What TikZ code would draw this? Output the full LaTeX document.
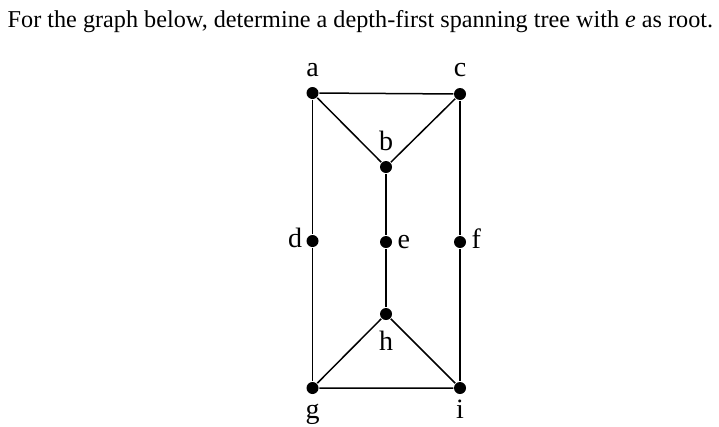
\documentclass[tikz,border=0pt]{standalone}
\usepackage{fontspec}
\setmainfont{Liberation Serif}
\usetikzlibrary{positioning}
\begin{document}
\begin{tikzpicture}[x=1pt,y=1pt,line width=1.5pt,
    vert/.style={circle,fill=black,inner sep=0pt,minimum size=12pt},
    etiq/.style={inner sep=0pt,text height=19.6pt,text depth=7pt,font=\fontsize{28}{32}\selectfont}]
    \useasboundingbox (0,0) rectangle (719,-426);
    % Enunciado
    \node[anchor=base west,inner sep=0pt,font=\fontsize{24.2}{29}\selectfont] (titulo) at (7,-27)
        {For the graph below, determine a depth-first spanning tree with \textit{e} as root.};

    % Dibuja los vertices
    \foreach \n/\x/\y in {a/312.5/93,c/460/94,b/386/167,d/312.5/241,e/386/242,f/460/242,h/386/314,g/312.5/388,i/460/388}
    \node[vert] (\n) at (\x,-\y) {};

    % Etiquetas de los vertices
    \foreach \n/\p/\dd in {a/above/2,c/above/3,b/above/2,d/left/3,e/right/4,f/right/4,h/below/9,g/below/3,i/below/3}
    \node[etiq,\p=\dd pt of \n] (l\n) {\n};

    % Dibuja las aristas
    \draw (a) -- (c) -- (b) -- (a);
    \draw (a) -- (d) -- (g);
    \draw (c) -- (f) -- (i);
    \draw (b) -- (e) -- (h);
    \draw (g) -- (h) -- (i) -- (g);
\end{tikzpicture}
\end{document}
